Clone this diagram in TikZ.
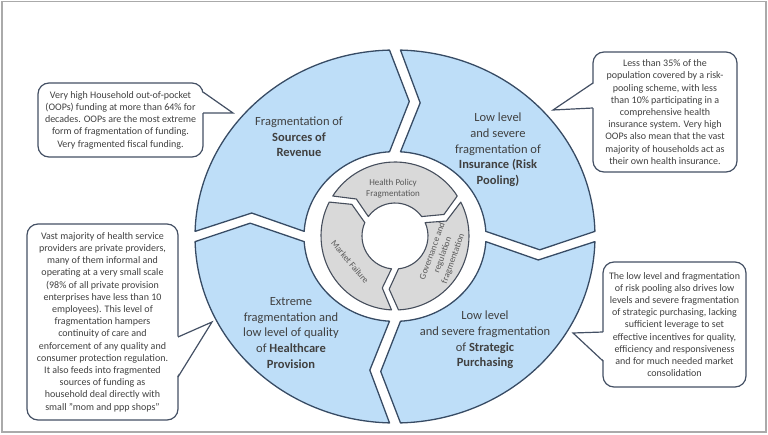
\documentclass[tikz,border=0pt]{standalone}
\usepackage{fontspec}
\setmainfont{Carlito}
\definecolor{segblue}{RGB}{190,222,248}
\definecolor{segline}{RGB}{55,75,100}
\definecolor{ringgray}{RGB}{217,217,217}
\definecolor{ringline}{RGB}{70,78,92}
\definecolor{txt}{RGB}{64,64,64}
\definecolor{graytxt}{RGB}{89,89,89}
\definecolor{framegray}{RGB}{170,170,170}
\definecolor{callline}{RGB}{68,80,100}
\newcommand{\ringseg}[7]{%
  \pgfmathsetmacro{\rsM}{(#3+#4)/2}%
  \pgfmathsetmacro{\rsA}{#1-deg(#5/#3)}%
  \pgfmathsetmacro{\rsB}{#1-deg(#5/\rsM)-#6}%
  \pgfmathsetmacro{\rsC}{#1-deg(#5/#4)}%
  \pgfmathsetmacro{\rsD}{#2+deg(#5/#4)}%
  \pgfmathsetmacro{\rsE}{#2+deg(#5/\rsM)-#6}%
  \pgfmathsetmacro{\rsF}{#2+deg(#5/#3)}%
  \draw[#7] (\rsA:#3) -- (\rsB:\rsM) -- (\rsC:#4)
     arc[start angle=\rsC, end angle=\rsD, radius=#4]
     -- (\rsE:\rsM) -- (\rsF:#3)
     arc[start angle=\rsF, end angle=\rsA, radius=#3] -- cycle;
}
\begin{document}
\begin{tikzpicture}[x=1pt,y=1pt,
  blueseg/.style={fill=segblue, draw=segline, line width=1.3pt, line join=round},
  grayseg/.style={fill=ringgray, draw=ringline, line width=1.1pt, line join=round},
  bluelabel/.style={align=center, text=txt, font=\fontsize{12.5}{15.7}\selectfont, inner sep=0pt},
  graylabel/.style={align=center, text=graytxt, font=\fontsize{9}{11}\selectfont, inner sep=0pt},
  callbox/.style={draw=callline, fill=white, line width=1.2pt, rounded corners=11pt,
     align=center, text=txt, font=\fontsize{10}{12.2}\selectfont, inner sep=2pt},
  pointer/.style={draw=callline, line width=1.2pt, line join=miter}
]
\useasboundingbox (0,0) rectangle (768,434);
\draw[framegray, line width=1.5pt] (2,2) rectangle (766,432.5);

% outer blue ring
\begin{scope}[shift={(395,197.5)}, yscale=0.9325]
  \ringseg{180}{90}{200}{91}{5.5}{7.8}{blueseg}
  \ringseg{90}{0}{200}{91}{5.5}{7.8}{blueseg}
  \ringseg{0}{-90}{200}{91}{5.5}{7.8}{blueseg}
  \ringseg{-90}{-180}{200}{91}{5.5}{7.8}{blueseg}
\end{scope}

% inner gray ring
\begin{scope}[shift={(395,198)}]
  \ringseg{150}{30}{74}{33}{3.5}{10}{grayseg}
  \ringseg{30}{-90}{74}{33}{3.5}{10}{grayseg}
  \ringseg{-90}{-210}{74}{33}{3.5}{10}{grayseg}
\end{scope}

% blue labels
\node[bluelabel] (src) at (299,297) {Fragmentation of\\\textbf{Sources of}\\\textbf{Revenue}};
\node[bluelabel] (ins) at (498,284) {Low level\\and severe\\fragmentation of\\\textbf{Insurance (Risk}\\\textbf{Pooling)}};
\node[bluelabel] (hcp) at (291,101) {Extreme\\fragmentation and\\low level of quality\\of \textbf{Healthcare}\\\textbf{Provision}};
\node[bluelabel] (stp) at (485,94) {Low level\\and severe fragmentation\\of \textbf{Strategic}\\\textbf{Purchasing}};

% gray labels
\node[graylabel] (hpf) at (393,245.5) {Health Policy\\Fragmentation};
\node[graylabel, rotate=-50] (mkf) at (350,172) {Market Failure};
\node[graylabel, rotate=70] (gov) at (443,179) {Governance and\\regulation\\fragmentation};

% callout 1
\node[callbox, minimum width=165pt, minimum height=74pt] (c1) at (120.5,314) {Very high Household out-of-pocket\\(OOPs) funding at more than 64\% for\\decades. OOPs are the most extreme\\form of fragmentation of funding.\\Very fragmented fiscal funding.};
\coordinate (c1tip) at (233,321);
\fill[white] (201.5,342) -- (c1tip) -- (201.5,321) -- cycle;
\draw[pointer] (203,342) -- (c1tip) -- (203,321);

% callout 2
\node[callbox, minimum width=144pt, minimum height=120pt] (c2) at (665,322) {Less than 35\% of the\\population covered by a risk-\\pooling scheme, with less\\than 10\% participating in a\\comprehensive health\\insurance system. Very high\\OOPs also mean that the vast\\majority of households act as\\their own health insurance.};
\coordinate (c2tip) at (553,324);
\fill[white] (594.5,351) -- (c2tip) -- (594.5,326) -- cycle;
\draw[pointer] (593,351) -- (c2tip) -- (593,326);

% callout 3
\node[callbox, minimum width=151pt, minimum height=196pt] (c3) at (102.5,112) {Vast majority of health service\\providers are private providers,\\many of them informal and\\operating at a very small scale\\(98\% of all private provision\\enterprises have less than 10\\employees). This level of\\fragmentation hampers\\continuity of care and\\enforcement of any quality and\\consumer protection regulation.\\It also feeds into fragmented\\sources of funding as\\household deal directly with\\small "mom and ppp shops"};
\coordinate (c3tip) at (212,112);
\fill[white] (176.5,97) -- (c3tip) -- (176.5,57) -- cycle;
\draw[pointer] (178,97) -- (c3tip) -- (178,57);

% callout 4
\node[callbox, minimum width=143pt, minimum height=125pt] (c4) at (674.5,109.5) {The low level and fragmentation\\of risk pooling also drives low\\levels and severe fragmentation\\of strategic purchasing, lacking\\sufficient leverage to set\\effective incentives for quality,\\efficiency and responsiveness\\and for much needed market\\consolidation};
\coordinate (c4tip) at (573,101);
\fill[white] (604.5,102) -- (c4tip) -- (604.5,73) -- cycle;
\draw[pointer] (603,102) -- (c4tip) -- (603,73);
\end{tikzpicture}
\end{document}
